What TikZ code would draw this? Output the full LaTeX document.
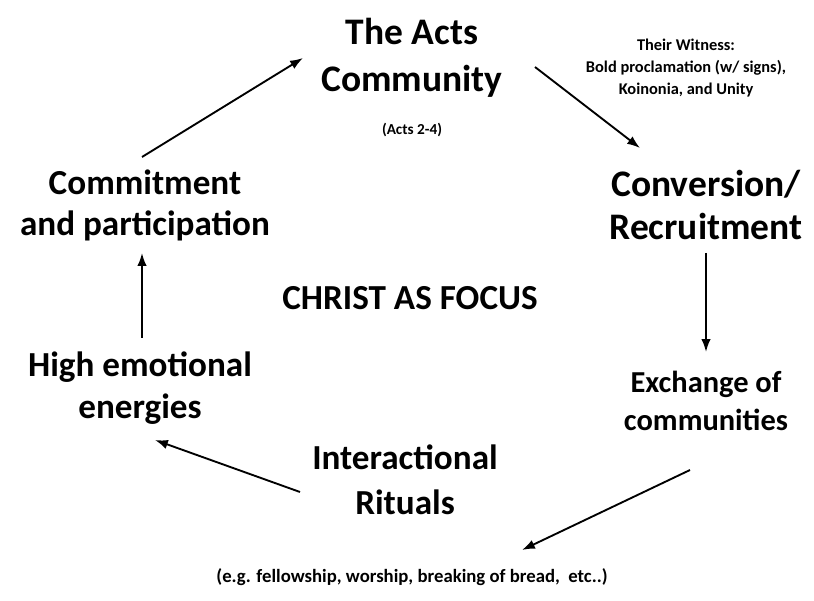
\documentclass[tikz,border=0pt]{standalone}
\usepackage{fontspec}
\setmainfont{Carlito}
\usetikzlibrary{arrows.meta}

\begin{document}
\begin{tikzpicture}[x=0.03cm,y=-0.03cm,
    stage/.style={font=\bfseries\fontsize{32}{37}\selectfont,align=center},
    minor/.style={font=\bfseries\fontsize{26}{32}\selectfont,align=center},
    note/.style={font=\bfseries\fontsize{14}{18.5}\selectfont,align=center},
    link/.style={line width=1.6pt,-{Latex[length=11pt,width=8pt]}}]
    \path[use as bounding box] (0,0) rectangle (814,601);

    \node[stage,font=\bfseries\fontsize{32}{40}\selectfont] (acts) at (412,58) {The Acts\\Community};
    \node[note,font=\bfseries\fontsize{13}{16}\selectfont] (ref) at (412,130) {(Acts 2-4)};
    \node[note] (wit) at (686,68) {Their Witness:\\Bold proclamation (w/ signs),\\Koinonia, and Unity};
    \node[stage] (conv) at (706,205) {Conversion/\\Recruitment};
    \node[minor] (exch) at (706,401) {Exchange of\\communities};
    \node[stage,font=\bfseries\fontsize{30}{38}\selectfont] (ritu) at (405,480) {Interactional\\Rituals};
    \node[note,font=\bfseries\fontsize{16}{19}\selectfont] (eg) at (412,577) {(e.g. fellowship, worship, breaking of bread,\ \ etc..)};
    \node[stage,font=\bfseries\fontsize{30}{36}\selectfont] (high) at (140,388) {High emotional\\energies};
    \node[stage,font=\bfseries\fontsize{30}{35}\selectfont] (comm) at (145,205) {Commitment\\and participation};
    \node[minor,font=\bfseries\fontsize{30}{36}\selectfont] (focus) at (410,298) {CHRIST AS FOCUS};

    \draw[link] ([shift={(-3,-48)}]comm.center) -- ([shift={(-109,0)}]acts.center);
    \draw[link] ([shift={(123,9)}]acts.center) -- ([shift={(-66,-57)}]conv.center);
    \draw[link] ([shift={(0,48)}]conv.center) -- ([shift={(0,-49)}]exch.center);
    \draw[link] ([shift={(-16,69)}]exch.center) -- ([shift={(117,70)}]ritu.center);
    \draw[link] ([shift={(-105,12)}]ritu.center) -- ([shift={(15,52)}]high.center);
    \draw[link] ([shift={(2,-50)}]high.center) -- ([shift={(-3,48)}]comm.center);
\end{tikzpicture}
\end{document}
